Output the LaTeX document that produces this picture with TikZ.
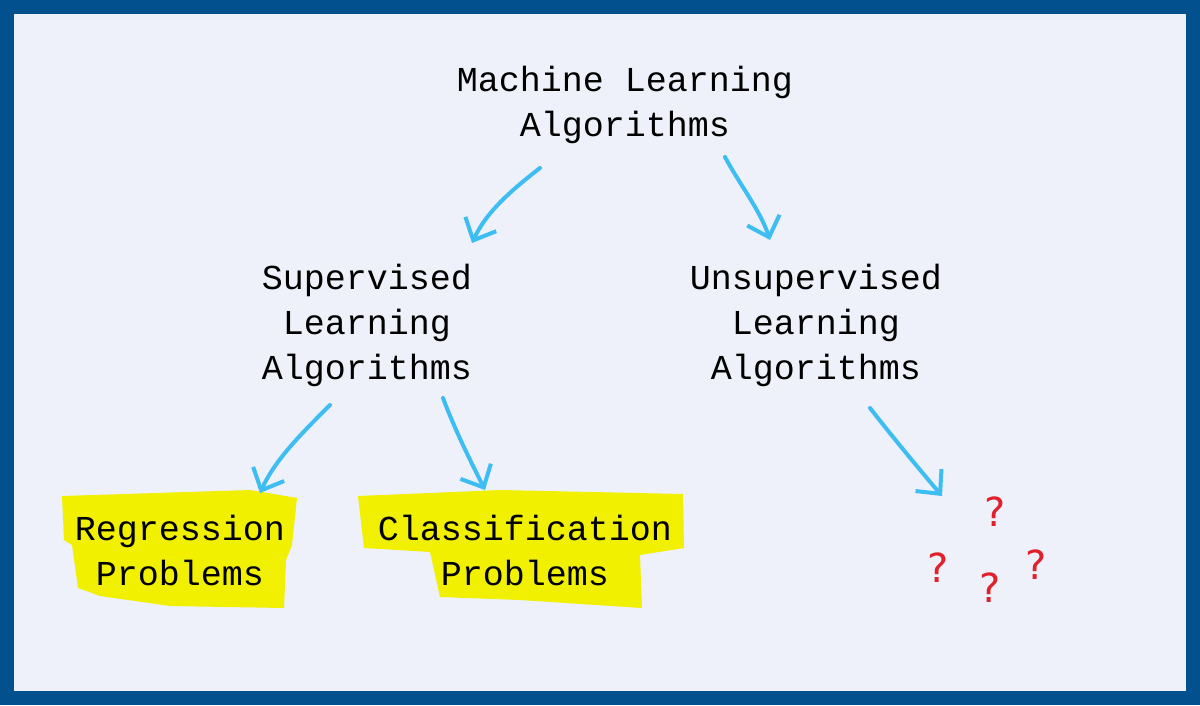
\documentclass[tikz,border=0pt]{standalone}
\usepackage{fontspec}
\setmonofont{Liberation Mono}
\usetikzlibrary{arrows.meta}
\definecolor{frame}{HTML}{02508E}
\definecolor{bg}{HTML}{EEF1F9}
\definecolor{hl}{HTML}{F0F000}
\definecolor{arr}{HTML}{3DBDF2}
\definecolor{qm}{HTML}{E0202A}
\tikzset{
 lbl/.style={font=\ttfamily\fontsize{35}{45}\selectfont, align=center, inner sep=0pt},
 harrow/.style={arr, line width=4pt, line cap=round, -{Straight Barb[length=18pt,width=34pt,line width=4pt]}},
 qmark/.style={qm, font=\fontspec{DejaVu Sans}\fontsize{40}{40}\selectfont, inner sep=0pt}
}
\begin{document}
\begin{tikzpicture}[x=1pt,y=-1pt]
\useasboundingbox (0,0) rectangle (1200,705);
\fill[frame] (0,0) rectangle (1200,705);
\fill[bg] (14,14) rectangle (1186,691);
% highlights
\fill[hl] (62,496) -- (250,490) -- (297,498) -- (292,545) -- (286,560) -- (284,608) -- (170,606) -- (100,596) -- (78,588) -- (72,545) -- (64,540) -- cycle;
\fill[hl] (358,496) -- (500,490) -- (683,494) -- (684,548) -- (640,555) -- (642,608) -- (520,600) -- (440,597) -- (430,552) -- (364,548) -- cycle;
\node[lbl] (ml) at (625,105) {Machine Learning\\Algorithms};
\node[lbl] (sl) at (367,325) {Supervised\\Learning\\Algorithms};
\node[lbl] (ul) at (816,325) {Unsupervised\\Learning\\Algorithms};
\node[lbl] (rp) at (180,550) {Regression\\Problems};
\node[lbl] (cp) at (525,550) {Classification\\Problems};
\coordinate (a1s) at (540,168); \coordinate (a1e) at (472,243);
\coordinate (a2s) at (725,157); \coordinate (a2e) at (770,240);
\coordinate (a3s) at (330,405); \coordinate (a3e) at (260,493);
\coordinate (a4s) at (443,398); \coordinate (a4e) at (485,490);
\coordinate (a5s) at (870,408); \coordinate (a5e) at (942,496);
\draw[harrow] (a1s) .. controls (505,195) and (485,215) .. (a1e);
\draw[harrow] (a2s) .. controls (740,185) and (760,210) .. (a2e);
\draw[harrow] (a3s) .. controls (300,435) and (275,460) .. (a3e);
\draw[harrow] (a4s) .. controls (455,430) and (470,460) .. (a4e);
\draw[harrow] (a5s) .. controls (895,440) and (920,470) .. (a5e);
\node[qmark] (q1) at (995,512) {?};
\node[qmark] (q2) at (938,568) {?};
\node[qmark] (q3) at (990,588) {?};
\node[qmark] (q4) at (1036,565) {?};
\end{tikzpicture}
\end{document}
